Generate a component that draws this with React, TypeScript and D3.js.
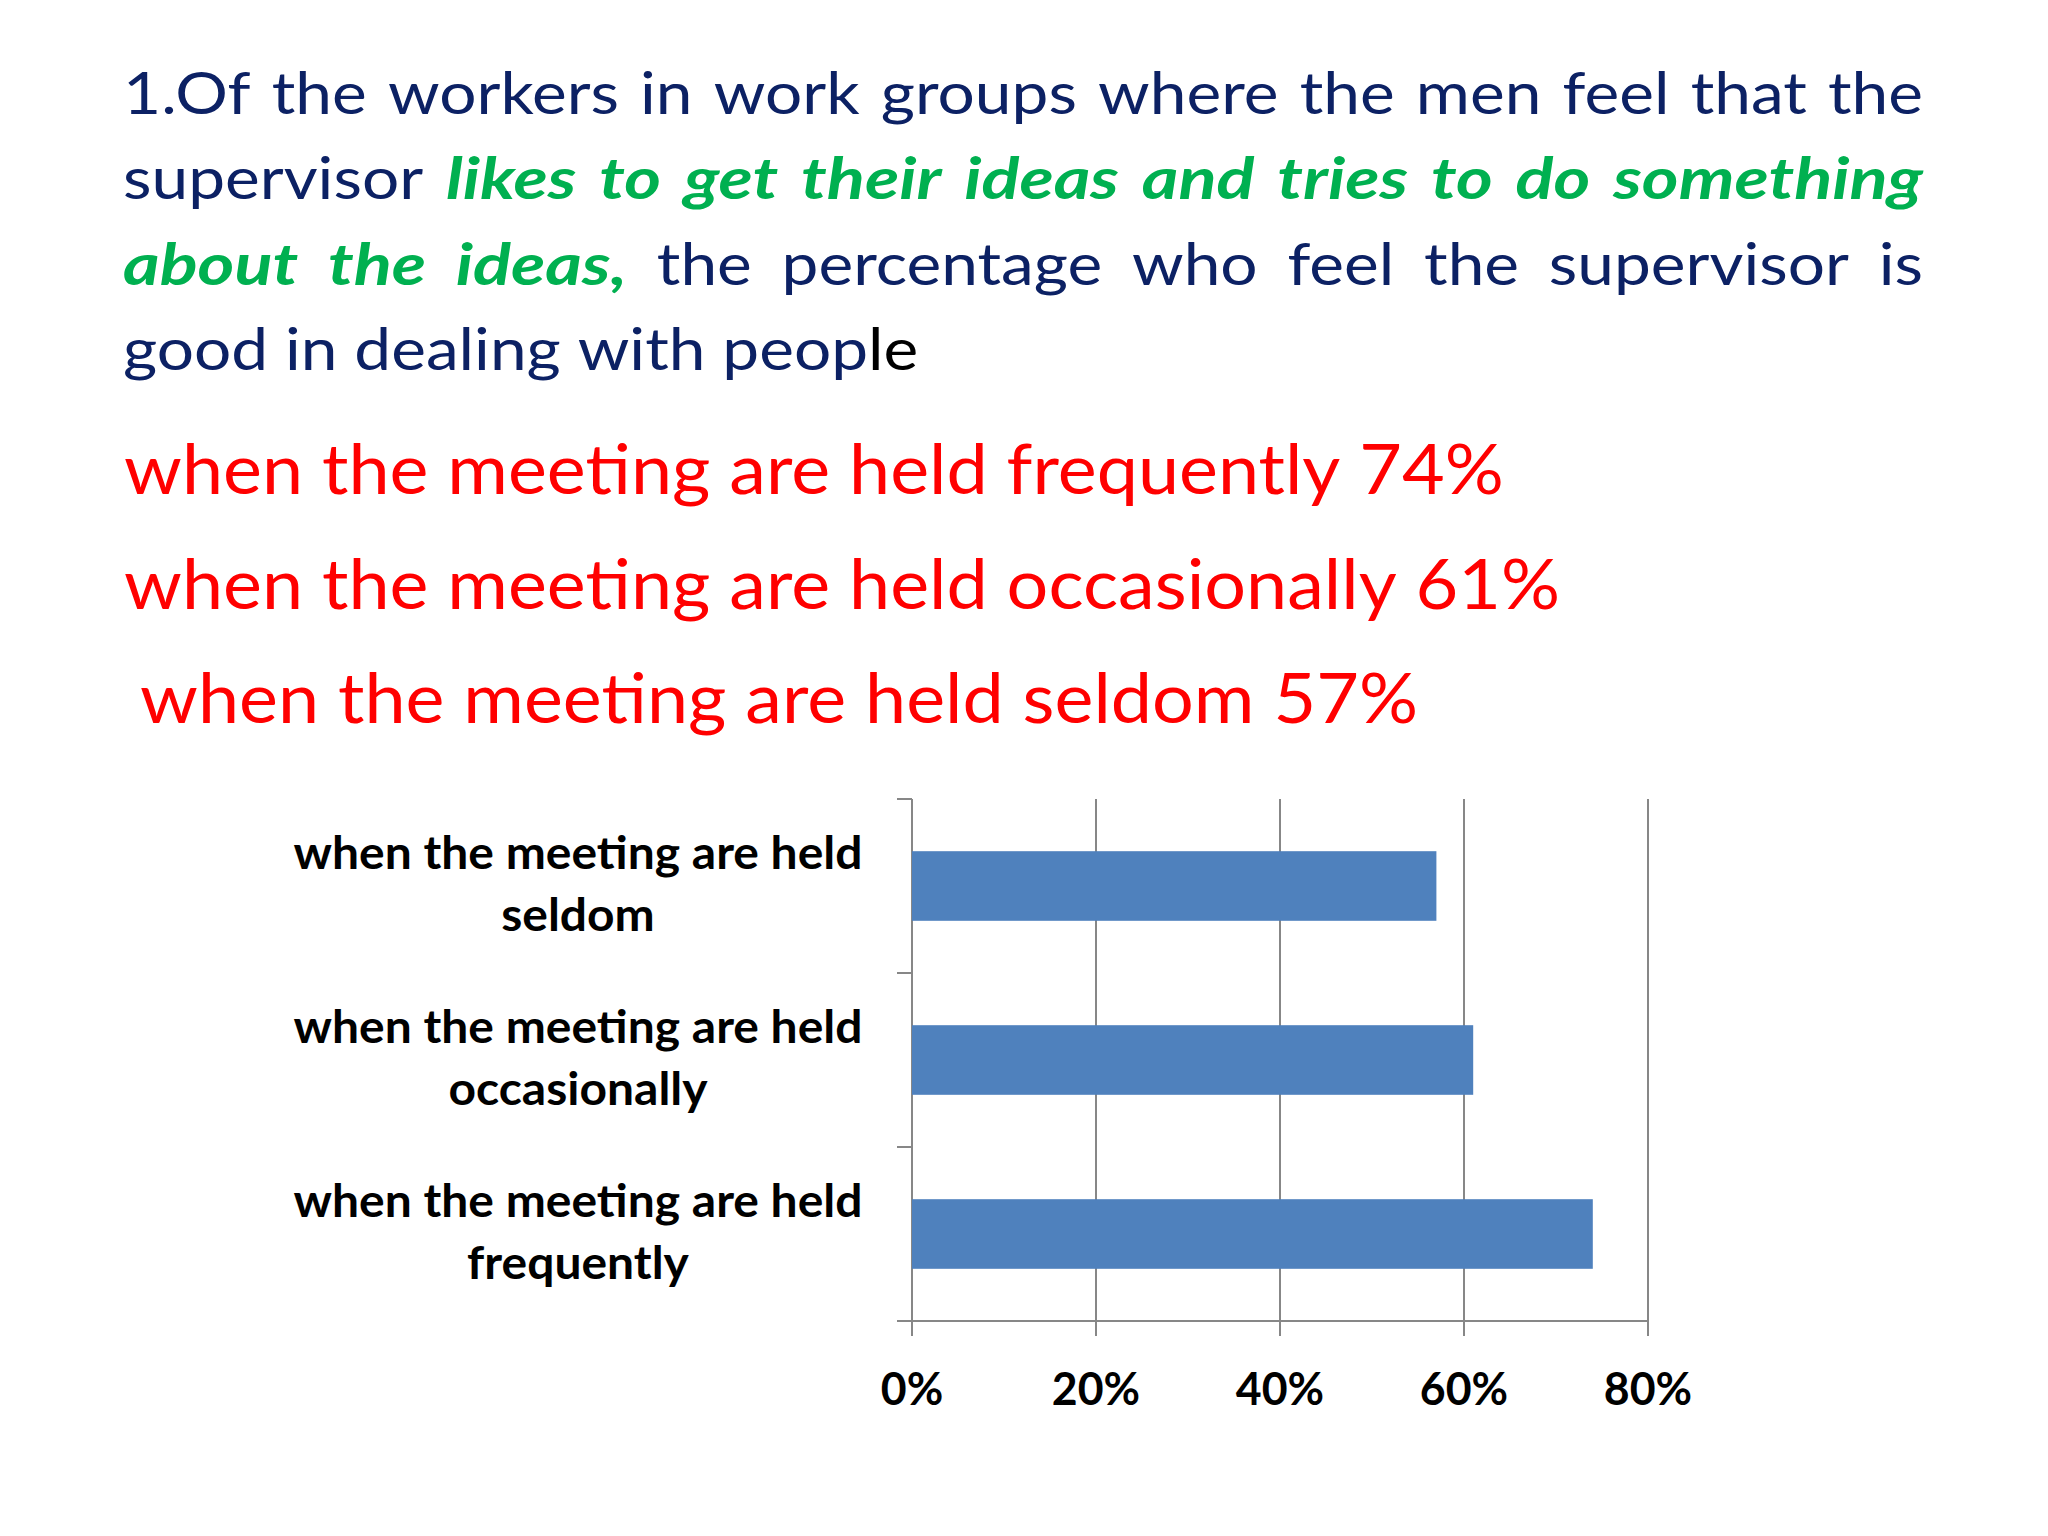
import { useRef, useEffect } from 'react';
import * as d3 from 'd3';

// ---- data ----
const categories = ['seldom', 'occasionally', 'frequently'];
const percentages = [57, 61, 74];
const labelPrefix = 'when the meeting are held';
const xTickValues = [0, 20, 40, 60, 80];

type Tone = 'navy' | 'green' | 'black' | 'red';
type Run = { text: string; tone: Tone };

const headingLines: Run[][] = [
  [{ text: '1.Of the workers in work groups where the men feel that the', tone: 'navy' }],
  [
    { text: 'supervisor ', tone: 'navy' },
    { text: 'likes to get their ideas and tries to do something', tone: 'green' },
  ],
  [
    { text: 'about the ideas,', tone: 'green' },
    { text: ' the percentage who feel the supervisor is', tone: 'navy' },
  ],
  [
    { text: 'good in dealing with peop', tone: 'navy' },
    { text: 'le', tone: 'black' },
  ],
];

const FONT = "Lato, 'Open Sans', sans-serif";
const NAVY = '#0c2164';
const GREEN = '#00b050';
const RED = '#ff0000';
const BAR = '#4f81bd';
const GRID = '#878787';

const toneStyle = (tone: Tone) => {
  if (tone === 'green') return { fill: GREEN, weight: 700, style: 'italic' };
  if (tone === 'black') return { fill: '#000', weight: 400, style: 'normal' };
  if (tone === 'red') return { fill: RED, weight: 400, style: 'normal' };
  return { fill: NAVY, weight: 400, style: 'normal' };
};

function toWords(runs: Run[]) {
  const words: Run[][] = [];
  let cur: Run[] = [];
  runs.forEach((r) => {
    r.text.split(/( )/).forEach((tok) => {
      if (tok === ' ') {
        if (cur.length) words.push(cur);
        cur = [];
      } else if (tok) cur.push({ text: tok, tone: r.tone });
    });
  });
  if (cur.length) words.push(cur);
  return words;
}

function measure(svg: any, text: string, size: number, weight: number) {
  const t = svg
    .append('text')
    .attr('font-family', FONT)
    .attr('font-size', size)
    .attr('font-weight', weight)
    .text(text);
  const w = (t.node() as SVGTextElement).getComputedTextLength();
  t.remove();
  return w;
}

export default function App() {
  const svgRef = useRef<SVGSVGElement>(null);

  useEffect(() => {
    const svg = d3.select(svgRef.current!);
    svg.selectAll('*').remove();

    svg.append('rect').attr('width', 2048).attr('height', 1536).attr('fill', '#fff');

    // Calibri is narrower than the fallback font, squeeze horizontally
    const titleSize = 58;
    const redSize = 70;
    const boldSize = 46;
    const kTitle = 794 / measure(svg, 'good in dealing with people', titleSize, 400);
    const kRed = 1378 / measure(svg, 'when the meeting are held frequently 74%', redSize, 400);
    const kBold = 569 / measure(svg, labelPrefix, boldSize, 700);
    const greenBoost = 1.07;

    const drawWords = (
      words: Run[][],
      x: number,
      y: number,
      size: number,
      k: number,
      width: number | null
    ) => {
      const g = svg.append('g');
      const wordK = words.map((w) => (w[0].tone === 'green' ? k * greenBoost : k));
      const nodes = words.map((w, i) => {
        const t = g
          .append('text')
          .attr('font-family', FONT)
          .attr('font-size', size);
        w.forEach((p) => {
          const s = toneStyle(p.tone);
          t.append('tspan')
            .attr('fill', s.fill)
            .attr('font-weight', s.weight)
            .attr('font-style', s.style)
            .text(p.text);
        });
        return t;
      });
      const widths = nodes.map(
        (n, i) => (n.node() as SVGTextElement).getComputedTextLength() * wordK[i]
      );
      const space = (measure(svg, 'n n', size, 400) - measure(svg, 'nn', size, 400)) * k;
      const sum = d3.sum(widths);
      let gap = space;
      if (width != null && words.length > 1) {
        gap = Math.max(space * 0.6, (width - sum) / (words.length - 1));
      }
      let cx = x;
      nodes.forEach((n, i) => {
        n.attr('transform', `translate(${cx},${y}) scale(${wordK[i]},1)`);
        cx += widths[i] + gap;
      });
    };

    // Heading paragraph (justified except last line)
    const headLeft = 123;
    const headRight = 1923;
    const headBaselines = [114, 199, 285, 370];
    headingLines.forEach((line, i) => {
      const justify = i < headingLines.length - 1;
      drawWords(
        toWords(line),
        headLeft,
        headBaselines[i],
        titleSize,
        kTitle,
        justify ? headRight - headLeft : null
      );
    });

    // Red summary lines
    const summaryOrder = [2, 1, 0];
    const summaryBaselines = [494, 609, 723];
    const summaryIndent = [0, 0, 16];
    summaryOrder.forEach((ci, i) => {
      const text = `${labelPrefix} ${categories[ci]} ${percentages[ci]}%`;
      drawWords(
        toWords([{ text, tone: 'red' }]),
        124 + summaryIndent[i],
        summaryBaselines[i],
        redSize,
        kRed,
        null
      );
    });

    // ---- bar chart ----
    const x = d3.scaleLinear().domain([0, 80]).range([912, 1648]);
    const y = d3
      .scaleBand<string>()
      .domain(categories)
      .range([799, 1321])
      .paddingInner(0.6)
      .paddingOuter(0.3);
    const [yTop, yBottom] = y.range();
    const tickLen = 15;

    // Vertical gridlines
    svg
      .append('g')
      .selectAll('line')
      .data(xTickValues)
      .enter()
      .append('line')
      .attr('x1', (d) => x(d))
      .attr('x2', (d) => x(d))
      .attr('y1', yTop)
      .attr('y2', yBottom + tickLen)
      .attr('stroke', GRID)
      .attr('stroke-width', 2);

    // Bars
    svg
      .append('g')
      .selectAll('rect')
      .data(categories)
      .enter()
      .append('rect')
      .attr('x', x(0))
      .attr('y', (d) => y(d)!)
      .attr('width', (d, i) => x(percentages[i]) - x(0))
      .attr('height', y.bandwidth())
      .attr('fill', BAR);

    // Horizontal axis line
    svg
      .append('line')
      .attr('x1', x(0) - tickLen)
      .attr('x2', x(80))
      .attr('y1', yBottom)
      .attr('y2', yBottom)
      .attr('stroke', GRID)
      .attr('stroke-width', 2);

    // Category tick marks at band boundaries
    const boundaries = d3.range(categories.length + 1).map((i) => yTop + i * y.step());
    svg
      .append('g')
      .selectAll('line')
      .data(boundaries)
      .enter()
      .append('line')
      .attr('x1', x(0) - tickLen)
      .attr('x2', x(0))
      .attr('y1', (d) => d)
      .attr('y2', (d) => d)
      .attr('stroke', GRID)
      .attr('stroke-width', 2);

    // X tick labels
    svg
      .append('g')
      .selectAll('g')
      .data(xTickValues)
      .enter()
      .append('g')
      .attr('transform', (d) => `translate(${x(d)},${yBottom + 84}) scale(${kBold * 0.93},1)`)
      .append('text')
      .attr('text-anchor', 'middle')
      .attr('font-family', FONT)
      .attr('font-size', boldSize)
      .attr('font-weight', 700)
      .attr('fill', '#000')
      .text((d) => `${d}%`);

    // Category labels (two lines, centred)
    const labelCx = 578;
    const lineH = 62;
    categories.forEach((c) => {
      const center = y(c)! + y.bandwidth() / 2;
      [labelPrefix, c].forEach((txt, li) => {
        svg
          .append('g')
          .attr(
            'transform',
            `translate(${labelCx},${center + (li - 0.5) * lineH + 14}) scale(${kBold},1)`
          )
          .append('text')
          .attr('text-anchor', 'middle')
          .attr('font-family', FONT)
          .attr('font-size', boldSize)
          .attr('font-weight', 700)
          .attr('fill', '#000')
          .text(txt);
      });
    });
  }, []);

  return (
    <svg
      ref={svgRef}
      width={2048}
      height={1536}
      style={{ position: 'absolute', left: 0, top: 0, display: 'block' }}
    />
  );
}
